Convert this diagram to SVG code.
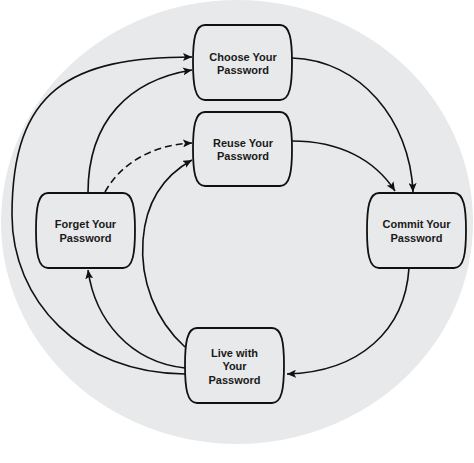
<svg xmlns="http://www.w3.org/2000/svg" width="474" height="463" viewBox="0 0 474 463">
<defs>
<marker id="ah" markerUnits="userSpaceOnUse" markerWidth="10" markerHeight="8" refX="9" refY="4" orient="auto">
<path d="M0,0 L9,4 L0,8 L2,4 Z" fill="#111"/>
</marker>
<style>
.node{fill:#e8e9ea;stroke:#111;stroke-width:1.8}
.lbl{font-family:"Liberation Sans",Arial,sans-serif;font-weight:bold;font-size:11px;fill:#1a1a1a;text-anchor:middle}
.edge{fill:none;stroke:#111;stroke-width:1.6;marker-end:url(#ah)}
.dash{stroke-dasharray:7,4}
</style>
</defs>
<rect width="474" height="463" fill="#ffffff"/>
<ellipse cx="237" cy="222" rx="236" ry="222" fill="#e8e9ea"/>
<g id="connectors">
<path class="edge" d="M185,374 C80,374 12,300 12,215 C12,90 70,57 192,57"/>
<path class="edge" d="M88,193 C88,120 130,80 192,70"/>
<path class="edge dash" d="M105,192 C120,165 150,145 192,143"/>
<path class="edge" d="M185,347 C155,320 140,280 143,240 C146,200 165,175 192,160"/>
<path class="edge" d="M185,368 C130,362 95,320 88,270"/>
<path class="edge" d="M292,58 C360,60 410,120 413,192"/>
<path class="edge" d="M292,141 C340,141 375,160 395,191"/>
<path class="edge" d="M409,268 C405,330 360,372 287,374"/>
</g>
<g id="choose">
<path class="node" d="M205,25 H280 C290,25 292,40 292,62 C292,85 290,100 280,100 H205 C195,100 193,85 193,62 C193,40 195,25 205,25 Z"/>
<text class="lbl" x="243" y="60.5">Choose Your</text>
<text class="lbl" x="243" y="74">Password</text>
</g>
<g id="reuse">
<path class="node" d="M205,112 H280 C290,112 292,127 292,149 C292,171 290,186 280,186 H205 C195,186 193,171 193,149 C193,127 195,112 205,112 Z"/>
<text class="lbl" x="243" y="146.5">Reuse Your</text>
<text class="lbl" x="243" y="160">Password</text>
</g>
<g id="forget">
<path class="node" d="M48,193 H123 C133,193 135,208 135,230 C135,253 133,268 123,268 H48 C38,268 36,253 36,230 C36,208 38,193 48,193 Z"/>
<text class="lbl" x="85.5" y="228">Forget Your</text>
<text class="lbl" x="85.5" y="241.5">Password</text>
</g>
<g id="commit">
<path class="node" d="M379,193 H454 C464,193 466,208 466,230 C466,253 464,268 454,268 H379 C369,268 367,253 367,230 C367,208 369,193 379,193 Z"/>
<text class="lbl" x="416.5" y="228">Commit Your</text>
<text class="lbl" x="416.5" y="241.5">Password</text>
</g>
<g id="live">
<path class="node" d="M197,328 H272 C282,328 284,343 284,365 C284,388 282,403 272,403 H197 C187,403 185,388 185,365 C185,343 187,328 197,328 Z"/>
<text class="lbl" x="234.5" y="356.5">Live with</text>
<text class="lbl" x="234.5" y="370">Your</text>
<text class="lbl" x="234.5" y="383.5">Password</text>
</g>
</svg>
